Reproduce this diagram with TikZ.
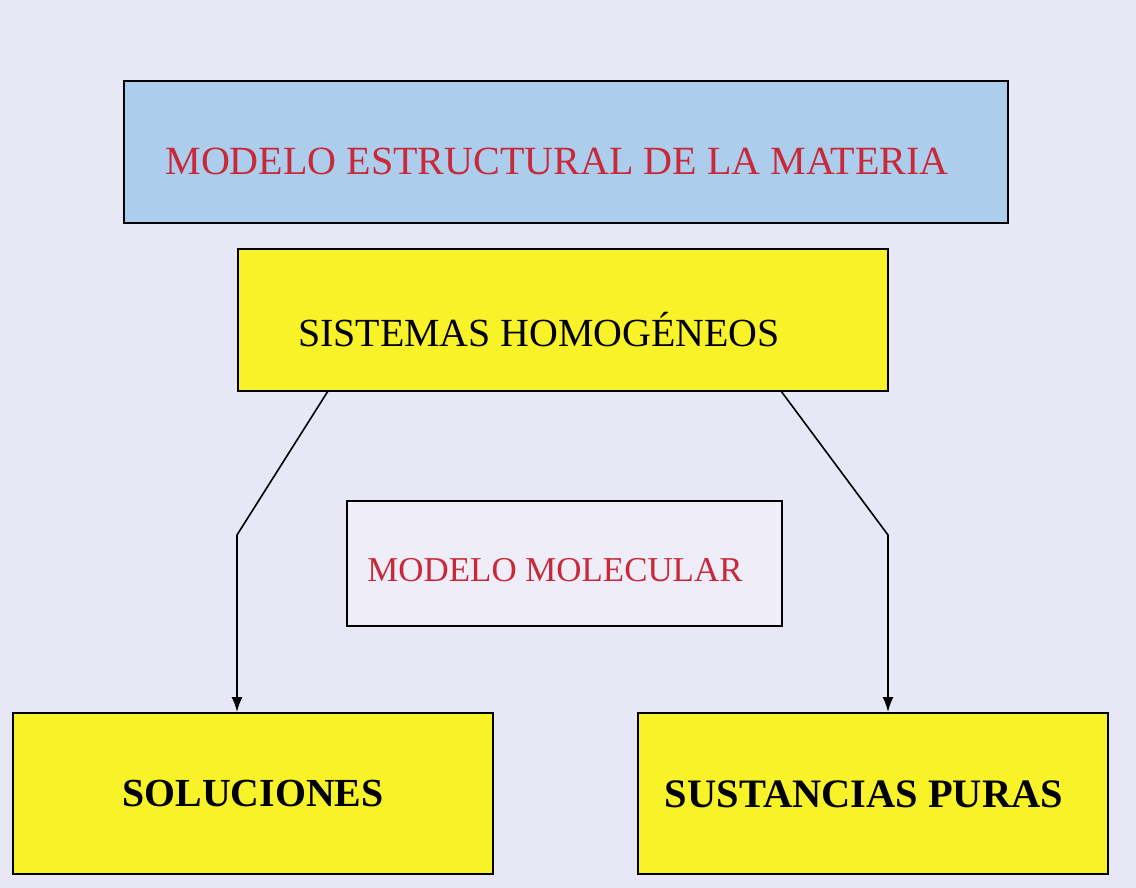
\documentclass[tikz,border=0pt]{standalone}
\usepackage{fontspec}
\setmainfont{Liberation Serif}
\usepackage{graphicx}
\usetikzlibrary{arrows.meta}
\definecolor{bg}{RGB}{232,231,245}
\definecolor{lblue}{RGB}{172,206,236}
\definecolor{yel}{RGB}{248,242,40}
\definecolor{tred}{RGB}{200,40,55}
\begin{document}
\begin{tikzpicture}[x=1pt,y=-1pt,
  box/.style={draw=black,line width=2pt,anchor=north west,inner sep=0pt},
  conn/.style={draw=black,line width=1.6pt,-{Latex[length=15pt,width=11pt]}}]
\fill[bg] (0,0) rectangle (1136,888);
\useasboundingbox (0,0) rectangle (1136,888);
\node[box,fill=lblue,minimum width=884pt,minimum height=142pt] (top) at (123,80) {};
\node[text=tred] (toptxt) at (557,161) {\resizebox{783pt}{!}{MODELO ESTRUCTURAL DE LA MATERIA}};
\node[box,fill=white!25!bg,minimum width=435pt,minimum height=125pt] (mol) at (346,500) {};
\node[text=tred] (moltxt) at (555,570) {\resizebox{375pt}{!}{MODELO MOLECULAR}};
\node[box,fill=yel,minimum width=650pt,minimum height=142pt] (sis) at (237,248) {};
\node (sistxt) at (539,330) {\resizebox{482pt}{!}{SISTEMAS HOMOGÉNEOS}};
\node[box,fill=yel,minimum width=480pt,minimum height=161pt] (sol) at (12,712) {};
\node (soltxt) at (253,794) {\resizebox{261pt}{!}{\bfseries SOLUCIONES}};
\node[box,fill=yel,minimum width=470pt,minimum height=161pt] (sus) at (637,712) {};
\node (sustxt) at (864,794) {\resizebox{398pt}{!}{\bfseries SUSTANCIAS PURAS}};
\coordinate (l1) at (328,391);
\coordinate (l2) at (237,535);
\coordinate (r1) at (781,391);
\coordinate (r2) at (888,535);
\draw[conn] (l1) -- (l2) -- (sol.north west -| l2);
\draw[conn] (r1) -- (r2) -- (sus.north west -| r2);
\end{tikzpicture}
\end{document}
